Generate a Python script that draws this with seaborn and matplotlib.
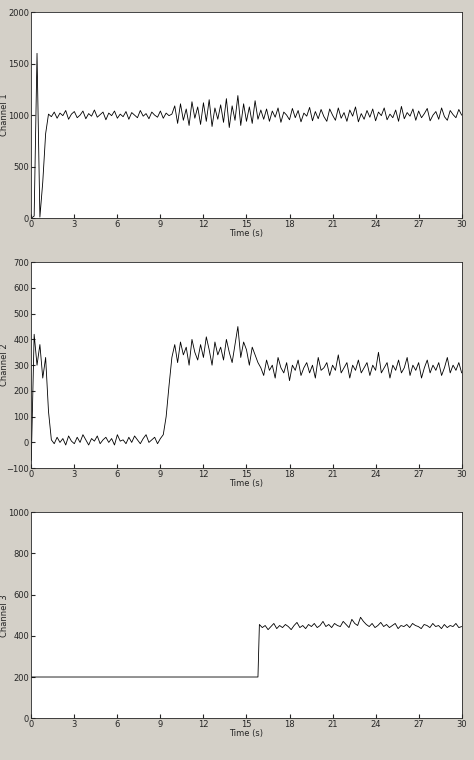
import numpy as np
import matplotlib
matplotlib.use("Agg")
import matplotlib.pyplot as plt
import seaborn as sns

ch1 = [0, 20, 1600, 10, 350, 820, 1010,
       985, 1030, 970, 1020, 995, 1045, 960, 1010, 1035, 975, 1000, 1040, 965, 1015, 990, 1050, 980, 1005, 1030, 955,
       1020, 995, 1040, 970, 1010, 985, 1035, 960, 1025, 1000, 975, 1045, 990, 1015, 965, 1030, 1000, 980, 1040, 970,
       1020, 995, 1010,
       1090, 920, 1110, 950, 1060, 900, 1130, 970, 1080, 910, 1120, 940, 1150, 890, 1070, 960, 1100, 930, 1160, 880,
       1090, 950, 1190, 900, 1110, 940, 1080, 920, 1140, 960, 1050,
       960, 1060, 940, 1040, 980, 1070, 930, 1030, 1000, 955, 1065, 975, 1045, 935, 1020, 990, 1075, 945, 1035, 965,
       1055, 985, 940, 1060, 1000, 950, 1070, 970, 1025, 940, 1050, 990, 1080, 935, 1015, 960, 1045, 980, 1060, 945,
       1030, 995, 1070, 955, 1010, 975, 1050, 940, 1085, 965, 1025, 990, 1060, 950, 1040, 975, 1015, 1065, 945, 1000,
       1035, 960, 1070, 985, 950, 1045, 1005, 975, 1055, 1000]

ch2 = [-70, 420, 300, 380, 250, 330, 120,
       10, -5, 20, 0, 15, -10, 25, 5, -5, 20, 0, 30, 10, -10, 15, 5, 25, -5, 10, 20, 0, 15, -10, 30, 5, 10, -5, 20,
       0, 25, 10, -5, 15, 30, 0, 10, 20, -5, 15, 30,
       100, 220, 330, 380,
       310, 390, 340, 370, 300, 400, 350, 320, 380, 330, 410, 360, 300, 390, 340, 370, 320, 400, 350, 310, 380, 450,
       330, 390, 360, 300, 370, 340, 310, 290,
       260, 320, 280, 300, 250, 330, 290, 270, 310, 240, 300, 280, 320, 260, 290, 310, 270, 300, 250, 330, 280, 290,
       310, 260, 300, 280, 340, 270, 290, 310, 250, 300, 280, 320, 270, 290, 310, 260, 300, 280, 350, 270, 290, 310,
       250, 300, 280, 320, 270, 290, 330, 260, 300, 280, 310, 250, 290, 320, 270, 300, 280, 310, 260, 290, 330, 270,
       300, 280, 310, 270]

ch3_flat_t = [0, 15.8]
ch3_flat = [200, 200]
ch3 = [455, 440, 450, 430, 445, 460, 435, 450, 440, 455, 445, 430, 450, 465, 440, 450, 435, 455, 445, 460,
       440, 450, 470, 445, 455, 440, 460, 450, 445, 470, 455, 440, 480, 460, 450, 490, 470, 455, 445, 460,
       440, 450, 465, 445, 455, 440, 450, 460, 435, 450, 445, 455, 440, 460, 450, 445, 435, 455, 450, 440,
       460, 445, 450, 435, 455, 440, 450, 445, 460, 440, 445]

t1 = np.linspace(0, 30, len(ch1))
t2 = np.linspace(0, 30, len(ch2))
t3 = np.concatenate([ch3_flat_t, np.linspace(15.9, 30, len(ch3))])
y3 = np.concatenate([ch3_flat, ch3])

sns.set_style("ticks")
plt.rcParams['font.family'] = ['DejaVu Sans']

fig = plt.figure(figsize=(4.74, 7.6), dpi=100)
fig.patch.set_facecolor("#d4d0c8")

panels = [
    (t1, ch1, "Channel 1", (0, 2000), 500, 0.713),
    (t2, ch2, "Channel 2", (-100, 700), 100, 0.384),
    (t3, y3, "Channel 3", (0, 1000), 200, 0.055),
]
for x, y, name, ylim, step, bottom in panels:
    ax = fig.add_axes([0.066, bottom, 0.908, 0.271])
    sns.lineplot(x=x, y=y, ax=ax, color="black", linewidth=0.6)
    ax.set_xlim(0, 30)
    ax.set_ylim(*ylim)
    ax.set_xticks(range(0, 31, 3))
    ax.set_yticks(range(ylim[0], ylim[1] + 1, step))
    ax.tick_params(labelsize=6, direction="in", length=3, pad=1.5)
    ax.set_xlabel("Time (s)", fontsize=6, labelpad=0)
    ax.set_ylabel(name, fontsize=6)
    ax.yaxis.set_label_coords(-0.052, 0.5)
    for s in ax.spines.values():
        s.set_visible(True)
        s.set_linewidth(0.6)

fig.savefig("out.png", dpi=100, facecolor=fig.get_facecolor())
